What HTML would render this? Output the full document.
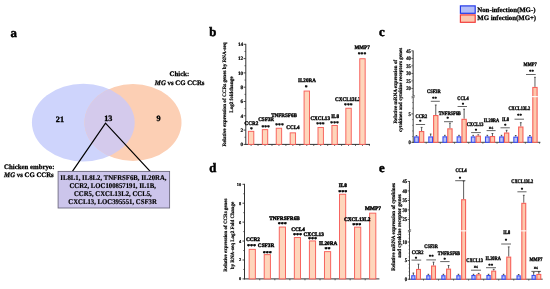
<!DOCTYPE html>
<html><head><meta charset="utf-8"><style>
html,body{margin:0;padding:0;background:#fff;}
svg{display:block;font-family:"Liberation Serif",serif;will-change:transform;text-rendering:geometricPrecision;}
</style></head><body>
<svg width="550" height="289" viewBox="0 0 550 289">
<defs><filter id="bl" x="0" y="0" width="1" height="1" color-interpolation-filters="sRGB"><feGaussianBlur stdDeviation="0.28"/></filter></defs>
<rect width="550" height="289" fill="#fff"/>
<g filter="url(#bl)">
<text x="10.40" y="36.80" font-size="12.8" font-weight="bold" font-style="normal" text-anchor="start" fill="#000" stroke="#000" stroke-width="0.512">a</text>
<ellipse cx="83.3" cy="122.6" rx="51.4" ry="38.8" fill="#ced4fc"/>
<ellipse cx="133.0" cy="122.5" rx="48.5" ry="38.4" fill="#fccfb4"/>
<clipPath id="cl"><ellipse cx="83.3" cy="122.6" rx="51.4" ry="38.8"/></clipPath>
<ellipse cx="133.0" cy="122.5" rx="48.5" ry="38.4" fill="#d4caec" clip-path="url(#cl)"/>
<text x="59.90" y="121.60" font-size="8.2" font-weight="bold" font-style="normal" text-anchor="middle" fill="#000" stroke="#000" stroke-width="0.328">21</text>
<text x="108.30" y="121.40" font-size="8.2" font-weight="bold" font-style="normal" text-anchor="middle" fill="#000" stroke="#000" stroke-width="0.328">13</text>
<text x="158.60" y="121.40" font-size="8.2" font-weight="bold" font-style="normal" text-anchor="middle" fill="#000" stroke="#000" stroke-width="0.328">9</text>
<text x="179.40" y="76.30" font-size="6.8" font-weight="bold" font-style="normal" text-anchor="middle" fill="#000" stroke="#000" stroke-width="0.272">Chick:</text>
<text x="179.7" y="84.6" font-size="6.8" font-weight="bold" text-anchor="middle" stroke="#000" stroke-width="0.272"><tspan font-style="italic">MG</tspan> vs CG CCRs</text>
<text x="4.10" y="168.70" font-size="6.8" font-weight="bold" font-style="normal" text-anchor="start" fill="#000" stroke="#000" stroke-width="0.272">Chicken embryo:</text>
<text x="4.1" y="176.5" font-size="6.8" font-weight="bold" stroke="#000" stroke-width="0.272"><tspan font-style="italic">MG</tspan> vs CG CCRs</text>
<polyline points="72.4,171.4 105.5,123.2 150.2,171.4" fill="none" stroke="#000" stroke-width="1.25"/>
<rect x="58.10" y="171.40" width="111.50" height="36.60" fill="#ccc5eb" stroke="#6e6a80" stroke-width="0.9"/>
<text transform="translate(113.40,179.70) scale(1.0,1.08)" font-size="6.75" font-weight="bold" font-style="normal" text-anchor="middle" fill="#000" stroke="#000" stroke-width="0.169">IL8L1, IL8L2, TNFRSF6B, IL20RA,</text>
<text transform="translate(112.60,187.80) scale(1.0,1.08)" font-size="6.75" font-weight="bold" font-style="normal" text-anchor="middle" fill="#000" stroke="#000" stroke-width="0.169">CCR2, LOC100857191, IL1B,</text>
<text transform="translate(112.90,195.90) scale(1.0,1.08)" font-size="6.75" font-weight="bold" font-style="normal" text-anchor="middle" fill="#000" stroke="#000" stroke-width="0.169">CCR5, CXCL13L2, CCL5,</text>
<text transform="translate(112.60,204.00) scale(1.0,1.08)" font-size="6.75" font-weight="bold" font-style="normal" text-anchor="middle" fill="#000" stroke="#000" stroke-width="0.169">CXCL13, LOC395551, CSF3R</text>
<text x="209.30" y="36.20" font-size="12.8" font-weight="bold" font-style="normal" text-anchor="start" fill="#000" stroke="#000" stroke-width="0.512">b</text>
<line x1="245.80" y1="144.85" x2="245.80" y2="43.85" stroke="#333333" stroke-width="1.0"/>
<line x1="245.30" y1="144.40" x2="370.00" y2="144.40" stroke="#333333" stroke-width="1.0"/>
<line x1="243.60" y1="144.40" x2="245.80" y2="144.40" stroke="#333333" stroke-width="0.9"/>
<text x="243.20" y="146.20" font-size="5.2" font-weight="bold" font-style="normal" text-anchor="end" fill="#000" stroke="#000" stroke-width="0.208">0</text>
<line x1="244.50" y1="137.25" x2="245.80" y2="137.25" stroke="#333333" stroke-width="0.8"/>
<line x1="243.60" y1="130.10" x2="245.80" y2="130.10" stroke="#333333" stroke-width="0.9"/>
<text x="243.20" y="131.90" font-size="5.2" font-weight="bold" font-style="normal" text-anchor="end" fill="#000" stroke="#000" stroke-width="0.208">2</text>
<line x1="244.50" y1="122.95" x2="245.80" y2="122.95" stroke="#333333" stroke-width="0.8"/>
<line x1="243.60" y1="115.80" x2="245.80" y2="115.80" stroke="#333333" stroke-width="0.9"/>
<text x="243.20" y="117.60" font-size="5.2" font-weight="bold" font-style="normal" text-anchor="end" fill="#000" stroke="#000" stroke-width="0.208">4</text>
<line x1="244.50" y1="108.65" x2="245.80" y2="108.65" stroke="#333333" stroke-width="0.8"/>
<line x1="243.60" y1="101.50" x2="245.80" y2="101.50" stroke="#333333" stroke-width="0.9"/>
<text x="243.20" y="103.30" font-size="5.2" font-weight="bold" font-style="normal" text-anchor="end" fill="#000" stroke="#000" stroke-width="0.208">6</text>
<line x1="244.50" y1="94.35" x2="245.80" y2="94.35" stroke="#333333" stroke-width="0.8"/>
<line x1="243.60" y1="87.20" x2="245.80" y2="87.20" stroke="#333333" stroke-width="0.9"/>
<text x="243.20" y="89.00" font-size="5.2" font-weight="bold" font-style="normal" text-anchor="end" fill="#000" stroke="#000" stroke-width="0.208">8</text>
<line x1="244.50" y1="80.05" x2="245.80" y2="80.05" stroke="#333333" stroke-width="0.8"/>
<line x1="243.60" y1="72.90" x2="245.80" y2="72.90" stroke="#333333" stroke-width="0.9"/>
<text x="243.20" y="74.70" font-size="5.2" font-weight="bold" font-style="normal" text-anchor="end" fill="#000" stroke="#000" stroke-width="0.208">10</text>
<line x1="244.50" y1="65.75" x2="245.80" y2="65.75" stroke="#333333" stroke-width="0.8"/>
<line x1="243.60" y1="58.60" x2="245.80" y2="58.60" stroke="#333333" stroke-width="0.9"/>
<text x="243.20" y="60.40" font-size="5.2" font-weight="bold" font-style="normal" text-anchor="end" fill="#000" stroke="#000" stroke-width="0.208">12</text>
<line x1="244.50" y1="51.45" x2="245.80" y2="51.45" stroke="#333333" stroke-width="0.8"/>
<line x1="243.60" y1="44.30" x2="245.80" y2="44.30" stroke="#333333" stroke-width="0.9"/>
<text x="243.20" y="46.10" font-size="5.2" font-weight="bold" font-style="normal" text-anchor="end" fill="#000" stroke="#000" stroke-width="0.208">14</text>
<line x1="251.10" y1="144.40" x2="251.10" y2="145.90" stroke="#333333" stroke-width="0.8"/>
<line x1="258.06" y1="144.40" x2="258.06" y2="145.90" stroke="#333333" stroke-width="0.8"/>
<line x1="265.02" y1="144.40" x2="265.02" y2="145.90" stroke="#333333" stroke-width="0.8"/>
<line x1="271.98" y1="144.40" x2="271.98" y2="145.90" stroke="#333333" stroke-width="0.8"/>
<line x1="278.94" y1="144.40" x2="278.94" y2="145.90" stroke="#333333" stroke-width="0.8"/>
<line x1="285.90" y1="144.40" x2="285.90" y2="145.90" stroke="#333333" stroke-width="0.8"/>
<line x1="292.86" y1="144.40" x2="292.86" y2="145.90" stroke="#333333" stroke-width="0.8"/>
<line x1="299.82" y1="144.40" x2="299.82" y2="145.90" stroke="#333333" stroke-width="0.8"/>
<line x1="306.78" y1="144.40" x2="306.78" y2="145.90" stroke="#333333" stroke-width="0.8"/>
<line x1="313.74" y1="144.40" x2="313.74" y2="145.90" stroke="#333333" stroke-width="0.8"/>
<line x1="320.70" y1="144.40" x2="320.70" y2="145.90" stroke="#333333" stroke-width="0.8"/>
<line x1="327.66" y1="144.40" x2="327.66" y2="145.90" stroke="#333333" stroke-width="0.8"/>
<line x1="334.62" y1="144.40" x2="334.62" y2="145.90" stroke="#333333" stroke-width="0.8"/>
<line x1="341.58" y1="144.40" x2="341.58" y2="145.90" stroke="#333333" stroke-width="0.8"/>
<line x1="348.54" y1="144.40" x2="348.54" y2="145.90" stroke="#333333" stroke-width="0.8"/>
<line x1="355.50" y1="144.40" x2="355.50" y2="145.90" stroke="#333333" stroke-width="0.8"/>
<line x1="362.46" y1="144.40" x2="362.46" y2="145.90" stroke="#333333" stroke-width="0.8"/>
<line x1="369.42" y1="144.40" x2="369.42" y2="145.90" stroke="#333333" stroke-width="0.8"/>
<text transform="translate(251.40,124.90) scale(1.0,1.08)" font-size="5.1" font-weight="bold" font-style="normal" text-anchor="middle" fill="#000" stroke="#000" stroke-width="0.357">CCR2</text>
<text transform="translate(266.10,121.30) scale(1.0,1.08)" font-size="5.1" font-weight="bold" font-style="normal" text-anchor="middle" fill="#000" stroke="#000" stroke-width="0.357">CSF3R</text>
<text transform="translate(284.05,117.40) scale(1.0,1.08)" font-size="5.1" font-weight="bold" font-style="normal" text-anchor="middle" fill="#000" stroke="#000" stroke-width="0.357">TNFRSF6B</text>
<text transform="translate(292.95,128.90) scale(1.0,1.08)" font-size="5.1" font-weight="bold" font-style="normal" text-anchor="middle" fill="#000" stroke="#000" stroke-width="0.357">CCL4</text>
<text transform="translate(306.90,82.00) scale(1.0,1.08)" font-size="5.1" font-weight="bold" font-style="normal" text-anchor="middle" fill="#000" stroke="#000" stroke-width="0.357">IL20RA</text>
<text transform="translate(320.20,119.80) scale(1.0,1.08)" font-size="5.1" font-weight="bold" font-style="normal" text-anchor="middle" fill="#000" stroke="#000" stroke-width="0.357">CXCL13</text>
<text transform="translate(335.10,118.40) scale(1.0,1.08)" font-size="5.1" font-weight="bold" font-style="normal" text-anchor="middle" fill="#000" stroke="#000" stroke-width="0.357">IL8</text>
<text transform="translate(347.85,100.60) scale(1.0,1.08)" font-size="5.1" font-weight="bold" font-style="normal" text-anchor="middle" fill="#000" stroke="#000" stroke-width="0.357">CXCL13L2</text>
<text transform="translate(362.15,49.30) scale(1.0,1.08)" font-size="5.1" font-weight="bold" font-style="normal" text-anchor="middle" fill="#000" stroke="#000" stroke-width="0.357">MMP7</text>
<rect x="248.40" y="131.35" width="5.40" height="13.05" fill="#fed6bb" stroke="#f75f5a" stroke-width="0.95"/>
<rect x="262.32" y="129.65" width="5.40" height="14.75" fill="#fed6bb" stroke="#f75f5a" stroke-width="0.95"/>
<rect x="276.24" y="128.25" width="5.40" height="16.15" fill="#fed6bb" stroke="#f75f5a" stroke-width="0.95"/>
<rect x="290.16" y="132.85" width="5.40" height="11.55" fill="#fed6bb" stroke="#f75f5a" stroke-width="0.95"/>
<rect x="304.08" y="91.05" width="5.40" height="53.35" fill="#fed6bb" stroke="#f75f5a" stroke-width="0.95"/>
<rect x="318.00" y="127.45" width="5.40" height="16.95" fill="#fed6bb" stroke="#f75f5a" stroke-width="0.95"/>
<rect x="331.92" y="125.45" width="5.40" height="18.95" fill="#fed6bb" stroke="#f75f5a" stroke-width="0.95"/>
<rect x="345.84" y="108.25" width="5.40" height="36.15" fill="#fed6bb" stroke="#f75f5a" stroke-width="0.95"/>
<rect x="359.76" y="58.75" width="5.40" height="85.65" fill="#fed6bb" stroke="#f75f5a" stroke-width="0.95"/>
<text x="251.30" y="131.15" font-size="5.6" font-weight="bold" font-style="normal" text-anchor="middle" fill="#000" stroke="#000" stroke-width="0.224">*</text>
<text x="265.70" y="128.85" font-size="5.6" font-weight="bold" font-style="normal" text-anchor="middle" fill="#000" stroke="#000" stroke-width="0.224">***</text>
<text x="279.50" y="126.85" font-size="5.6" font-weight="bold" font-style="normal" text-anchor="middle" fill="#000" stroke="#000" stroke-width="0.224">***</text>
<text x="306.20" y="88.95" font-size="5.6" font-weight="bold" font-style="normal" text-anchor="middle" fill="#000" stroke="#000" stroke-width="0.224">*</text>
<text x="320.40" y="126.35" font-size="5.6" font-weight="bold" font-style="normal" text-anchor="middle" fill="#000" stroke="#000" stroke-width="0.224">***</text>
<text x="334.55" y="125.45" font-size="5.6" font-weight="bold" font-style="normal" text-anchor="middle" fill="#000" stroke="#000" stroke-width="0.224">***</text>
<text x="348.30" y="107.05" font-size="5.6" font-weight="bold" font-style="normal" text-anchor="middle" fill="#000" stroke="#000" stroke-width="0.224">***</text>
<text x="362.00" y="56.25" font-size="5.6" font-weight="bold" font-style="normal" text-anchor="middle" fill="#000" stroke="#000" stroke-width="0.224">***</text>
<text transform="translate(226.30,94.40) rotate(-90)" font-size="5.18" font-weight="bold" text-anchor="middle" stroke="#000" stroke-width="0.207">Relative expression of CCRs genes by RNA-seq</text>
<text transform="translate(232.90,94.60) rotate(-90)" font-size="5.15" font-weight="bold" text-anchor="middle" stroke="#000" stroke-width="0.206">Log2 foldchange</text>
<rect x="460.40" y="5.90" width="14.80" height="7.40" fill="#b3bcf7" stroke="#2238e8" stroke-width="1.2"/>
<rect x="460.40" y="14.90" width="14.80" height="7.40" fill="#fcc8b0" stroke="#f23c3a" stroke-width="1.2"/>
<text x="477.30" y="12.40" font-size="6.8" font-weight="bold" font-style="normal" text-anchor="start" fill="#000" stroke="#000" stroke-width="0.272">Non-infection(MG-)</text>
<text x="477.30" y="20.40" font-size="6.8" font-weight="bold" font-style="normal" text-anchor="start" fill="#000" stroke="#000" stroke-width="0.272">MG infection(MG+)</text>
<text x="379.00" y="36.10" font-size="12.8" font-weight="bold" font-style="normal" text-anchor="start" fill="#000" stroke="#000" stroke-width="0.512">c</text>
<line x1="413.20" y1="142.75" x2="413.20" y2="50.50" stroke="#333333" stroke-width="0.9"/>
<line x1="412.75" y1="142.30" x2="540.40" y2="142.30" stroke="#333333" stroke-width="0.9"/>
<line x1="411.40" y1="142.30" x2="413.20" y2="142.30" stroke="#333333" stroke-width="0.9"/>
<text transform="translate(410.80,143.90) scale(1.0,1.2)" font-size="4.6" font-weight="bold" font-style="normal" text-anchor="end" fill="#000" stroke="#000" stroke-width="0.184">0</text>
<line x1="411.40" y1="113.90" x2="413.20" y2="113.90" stroke="#333333" stroke-width="0.9"/>
<text transform="translate(410.80,115.50) scale(1.0,1.2)" font-size="4.6" font-weight="bold" font-style="normal" text-anchor="end" fill="#000" stroke="#000" stroke-width="0.184">5</text>
<line x1="411.40" y1="88.40" x2="413.20" y2="88.40" stroke="#333333" stroke-width="0.9"/>
<text transform="translate(410.80,90.00) scale(1.0,1.2)" font-size="4.6" font-weight="bold" font-style="normal" text-anchor="end" fill="#000" stroke="#000" stroke-width="0.184">20</text>
<line x1="411.40" y1="80.90" x2="413.20" y2="80.90" stroke="#333333" stroke-width="0.9"/>
<text transform="translate(410.80,82.50) scale(1.0,1.2)" font-size="4.6" font-weight="bold" font-style="normal" text-anchor="end" fill="#000" stroke="#000" stroke-width="0.184">25</text>
<line x1="411.40" y1="73.40" x2="413.20" y2="73.40" stroke="#333333" stroke-width="0.9"/>
<text transform="translate(410.80,75.00) scale(1.0,1.2)" font-size="4.6" font-weight="bold" font-style="normal" text-anchor="end" fill="#000" stroke="#000" stroke-width="0.184">30</text>
<line x1="411.40" y1="65.90" x2="413.20" y2="65.90" stroke="#333333" stroke-width="0.9"/>
<text transform="translate(410.80,67.50) scale(1.0,1.2)" font-size="4.6" font-weight="bold" font-style="normal" text-anchor="end" fill="#000" stroke="#000" stroke-width="0.184">35</text>
<line x1="411.40" y1="58.40" x2="413.20" y2="58.40" stroke="#333333" stroke-width="0.9"/>
<text transform="translate(410.80,60.00) scale(1.0,1.2)" font-size="4.6" font-weight="bold" font-style="normal" text-anchor="end" fill="#000" stroke="#000" stroke-width="0.184">40</text>
<line x1="411.40" y1="50.90" x2="413.20" y2="50.90" stroke="#333333" stroke-width="0.9"/>
<text transform="translate(410.80,52.50) scale(1.0,1.2)" font-size="4.6" font-weight="bold" font-style="normal" text-anchor="end" fill="#000" stroke="#000" stroke-width="0.184">45</text>
<line x1="412.20" y1="136.62" x2="413.20" y2="136.62" stroke="#333333" stroke-width="0.6"/>
<line x1="412.20" y1="130.94" x2="413.20" y2="130.94" stroke="#333333" stroke-width="0.6"/>
<line x1="412.20" y1="125.26" x2="413.20" y2="125.26" stroke="#333333" stroke-width="0.6"/>
<line x1="412.20" y1="119.58" x2="413.20" y2="119.58" stroke="#333333" stroke-width="0.6"/>
<line x1="412.20" y1="108.22" x2="413.20" y2="108.22" stroke="#333333" stroke-width="0.6"/>
<line x1="412.20" y1="102.54" x2="413.20" y2="102.54" stroke="#333333" stroke-width="0.6"/>
<line x1="412.30" y1="94.40" x2="413.20" y2="94.40" stroke="#333333" stroke-width="0.45"/>
<line x1="412.30" y1="92.90" x2="413.20" y2="92.90" stroke="#333333" stroke-width="0.45"/>
<line x1="412.30" y1="91.40" x2="413.20" y2="91.40" stroke="#333333" stroke-width="0.45"/>
<line x1="412.30" y1="89.90" x2="413.20" y2="89.90" stroke="#333333" stroke-width="0.45"/>
<line x1="412.30" y1="86.90" x2="413.20" y2="86.90" stroke="#333333" stroke-width="0.45"/>
<line x1="412.30" y1="85.40" x2="413.20" y2="85.40" stroke="#333333" stroke-width="0.45"/>
<line x1="412.30" y1="83.90" x2="413.20" y2="83.90" stroke="#333333" stroke-width="0.45"/>
<line x1="412.30" y1="82.40" x2="413.20" y2="82.40" stroke="#333333" stroke-width="0.45"/>
<line x1="412.30" y1="79.40" x2="413.20" y2="79.40" stroke="#333333" stroke-width="0.45"/>
<line x1="412.30" y1="77.90" x2="413.20" y2="77.90" stroke="#333333" stroke-width="0.45"/>
<line x1="412.30" y1="76.40" x2="413.20" y2="76.40" stroke="#333333" stroke-width="0.45"/>
<line x1="412.30" y1="74.90" x2="413.20" y2="74.90" stroke="#333333" stroke-width="0.45"/>
<line x1="412.30" y1="71.90" x2="413.20" y2="71.90" stroke="#333333" stroke-width="0.45"/>
<line x1="412.30" y1="70.40" x2="413.20" y2="70.40" stroke="#333333" stroke-width="0.45"/>
<line x1="412.30" y1="68.90" x2="413.20" y2="68.90" stroke="#333333" stroke-width="0.45"/>
<line x1="412.30" y1="67.40" x2="413.20" y2="67.40" stroke="#333333" stroke-width="0.45"/>
<line x1="412.30" y1="64.40" x2="413.20" y2="64.40" stroke="#333333" stroke-width="0.45"/>
<line x1="412.30" y1="62.90" x2="413.20" y2="62.90" stroke="#333333" stroke-width="0.45"/>
<line x1="412.30" y1="61.40" x2="413.20" y2="61.40" stroke="#333333" stroke-width="0.45"/>
<line x1="412.30" y1="59.90" x2="413.20" y2="59.90" stroke="#333333" stroke-width="0.45"/>
<line x1="412.30" y1="56.90" x2="413.20" y2="56.90" stroke="#333333" stroke-width="0.45"/>
<line x1="412.30" y1="55.40" x2="413.20" y2="55.40" stroke="#333333" stroke-width="0.45"/>
<line x1="412.30" y1="53.90" x2="413.20" y2="53.90" stroke="#333333" stroke-width="0.45"/>
<line x1="412.30" y1="52.40" x2="413.20" y2="52.40" stroke="#333333" stroke-width="0.45"/>
<rect x="411.80" y="96.20" width="2.80" height="1.40" fill="#fff" stroke="none" stroke-width="0"/>
<line x1="411.60" y1="97.90" x2="414.80" y2="96.90" stroke="#333333" stroke-width="0.7"/>
<line x1="411.60" y1="96.60" x2="414.80" y2="95.60" stroke="#333333" stroke-width="0.7"/>
<line x1="426.20" y1="142.30" x2="426.20" y2="143.70" stroke="#333333" stroke-width="0.7"/>
<line x1="440.37" y1="142.30" x2="440.37" y2="143.70" stroke="#333333" stroke-width="0.7"/>
<line x1="454.54" y1="142.30" x2="454.54" y2="143.70" stroke="#333333" stroke-width="0.7"/>
<line x1="468.71" y1="142.30" x2="468.71" y2="143.70" stroke="#333333" stroke-width="0.7"/>
<line x1="482.88" y1="142.30" x2="482.88" y2="143.70" stroke="#333333" stroke-width="0.7"/>
<line x1="497.05" y1="142.30" x2="497.05" y2="143.70" stroke="#333333" stroke-width="0.7"/>
<line x1="511.22" y1="142.30" x2="511.22" y2="143.70" stroke="#333333" stroke-width="0.7"/>
<line x1="525.39" y1="142.30" x2="525.39" y2="143.70" stroke="#333333" stroke-width="0.7"/>
<line x1="539.56" y1="142.30" x2="539.56" y2="143.70" stroke="#333333" stroke-width="0.7"/>
<line x1="416.50" y1="135.60" x2="416.50" y2="136.40" stroke="#333" stroke-width="0.8"/>
<line x1="415.70" y1="135.60" x2="417.30" y2="135.60" stroke="#333" stroke-width="0.8"/>
<rect x="414.65" y="136.95" width="3.70" height="5.35" fill="#bcc4f8" stroke="#3a4ef0" stroke-width="1.1"/>
<line x1="421.60" y1="127.40" x2="421.60" y2="131.00" stroke="#333" stroke-width="0.8"/>
<line x1="420.70" y1="127.40" x2="422.50" y2="127.40" stroke="#333" stroke-width="0.8"/>
<rect x="419.45" y="131.55" width="4.30" height="10.75" fill="#fdc9ad" stroke="#f7615b" stroke-width="1.1"/>
<line x1="415.80" y1="124.50" x2="425.10" y2="124.50" stroke="#222" stroke-width="0.7"/>
<text x="420.20" y="122.83" font-size="4.9" font-weight="bold" font-style="normal" text-anchor="middle" fill="#000" stroke="#000" stroke-width="0.196">*</text>
<line x1="430.67" y1="134.00" x2="430.67" y2="136.40" stroke="#333" stroke-width="0.8"/>
<line x1="429.87" y1="134.00" x2="431.47" y2="134.00" stroke="#333" stroke-width="0.8"/>
<rect x="428.82" y="136.95" width="3.70" height="5.35" fill="#bcc4f8" stroke="#3a4ef0" stroke-width="1.1"/>
<line x1="435.77" y1="105.00" x2="435.77" y2="115.00" stroke="#333" stroke-width="0.8"/>
<line x1="434.87" y1="105.00" x2="436.67" y2="105.00" stroke="#333" stroke-width="0.8"/>
<rect x="433.62" y="115.55" width="4.30" height="26.75" fill="#fdc9ad" stroke="#f7615b" stroke-width="1.1"/>
<line x1="430.80" y1="101.30" x2="439.80" y2="101.30" stroke="#222" stroke-width="0.7"/>
<text x="434.50" y="99.53" font-size="4.9" font-weight="bold" font-style="normal" text-anchor="middle" fill="#000" stroke="#000" stroke-width="0.196">**</text>
<line x1="444.84" y1="135.30" x2="444.84" y2="136.30" stroke="#333" stroke-width="0.8"/>
<line x1="444.04" y1="135.30" x2="445.64" y2="135.30" stroke="#333" stroke-width="0.8"/>
<rect x="442.99" y="136.85" width="3.70" height="5.45" fill="#bcc4f8" stroke="#3a4ef0" stroke-width="1.1"/>
<line x1="449.94" y1="123.20" x2="449.94" y2="128.30" stroke="#333" stroke-width="0.8"/>
<line x1="449.04" y1="123.20" x2="450.84" y2="123.20" stroke="#333" stroke-width="0.8"/>
<rect x="447.79" y="128.85" width="4.30" height="13.45" fill="#fdc9ad" stroke="#f7615b" stroke-width="1.1"/>
<line x1="444.00" y1="121.70" x2="453.00" y2="121.70" stroke="#222" stroke-width="0.7"/>
<text x="447.80" y="119.93" font-size="4.9" font-weight="bold" font-style="normal" text-anchor="middle" fill="#000" stroke="#000" stroke-width="0.196">*</text>
<line x1="459.01" y1="135.30" x2="459.01" y2="136.30" stroke="#333" stroke-width="0.8"/>
<line x1="458.21" y1="135.30" x2="459.81" y2="135.30" stroke="#333" stroke-width="0.8"/>
<rect x="457.16" y="136.85" width="3.70" height="5.45" fill="#bcc4f8" stroke="#3a4ef0" stroke-width="1.1"/>
<line x1="464.11" y1="109.20" x2="464.11" y2="118.80" stroke="#333" stroke-width="0.8"/>
<line x1="463.21" y1="109.20" x2="465.01" y2="109.20" stroke="#333" stroke-width="0.8"/>
<rect x="461.96" y="119.35" width="4.30" height="22.95" fill="#fdc9ad" stroke="#f7615b" stroke-width="1.1"/>
<line x1="457.60" y1="106.50" x2="467.00" y2="106.50" stroke="#222" stroke-width="0.7"/>
<text x="463.10" y="105.63" font-size="4.9" font-weight="bold" font-style="normal" text-anchor="middle" fill="#000" stroke="#000" stroke-width="0.196">*</text>
<line x1="473.18" y1="135.30" x2="473.18" y2="136.40" stroke="#333" stroke-width="0.8"/>
<line x1="472.38" y1="135.30" x2="473.98" y2="135.30" stroke="#333" stroke-width="0.8"/>
<rect x="471.33" y="136.95" width="3.70" height="5.35" fill="#bcc4f8" stroke="#3a4ef0" stroke-width="1.1"/>
<line x1="478.28" y1="134.80" x2="478.28" y2="135.60" stroke="#333" stroke-width="0.8"/>
<line x1="477.38" y1="134.80" x2="479.18" y2="134.80" stroke="#333" stroke-width="0.8"/>
<rect x="476.13" y="136.15" width="4.30" height="6.15" fill="#fdc9ad" stroke="#f7615b" stroke-width="1.1"/>
<line x1="471.10" y1="132.60" x2="480.80" y2="132.60" stroke="#222" stroke-width="0.7"/>
<text x="475.90" y="132.03" font-size="4.9" font-weight="bold" font-style="normal" text-anchor="middle" fill="#000" stroke="#000" stroke-width="0.196">*</text>
<line x1="487.35" y1="135.30" x2="487.35" y2="136.40" stroke="#333" stroke-width="0.8"/>
<line x1="486.55" y1="135.30" x2="488.15" y2="135.30" stroke="#333" stroke-width="0.8"/>
<rect x="485.50" y="136.95" width="3.70" height="5.35" fill="#bcc4f8" stroke="#3a4ef0" stroke-width="1.1"/>
<line x1="492.45" y1="133.50" x2="492.45" y2="136.00" stroke="#333" stroke-width="0.8"/>
<line x1="491.55" y1="133.50" x2="493.35" y2="133.50" stroke="#333" stroke-width="0.8"/>
<rect x="490.30" y="136.55" width="4.30" height="5.75" fill="#fdc9ad" stroke="#f7615b" stroke-width="1.1"/>
<line x1="486.60" y1="130.60" x2="495.60" y2="130.60" stroke="#222" stroke-width="0.7"/>
<text x="491.00" y="128.56" font-size="4.6" font-weight="bold" font-style="normal" text-anchor="middle" fill="#000" stroke="#000" stroke-width="0.184">ns</text>
<line x1="501.52" y1="135.30" x2="501.52" y2="136.40" stroke="#333" stroke-width="0.8"/>
<line x1="500.72" y1="135.30" x2="502.32" y2="135.30" stroke="#333" stroke-width="0.8"/>
<rect x="499.67" y="136.95" width="3.70" height="5.35" fill="#bcc4f8" stroke="#3a4ef0" stroke-width="1.1"/>
<line x1="506.62" y1="130.30" x2="506.62" y2="132.50" stroke="#333" stroke-width="0.8"/>
<line x1="505.72" y1="130.30" x2="507.52" y2="130.30" stroke="#333" stroke-width="0.8"/>
<rect x="504.47" y="133.05" width="4.30" height="9.25" fill="#fdc9ad" stroke="#f7615b" stroke-width="1.1"/>
<line x1="500.50" y1="127.80" x2="509.80" y2="127.80" stroke="#222" stroke-width="0.7"/>
<text x="505.30" y="126.83" font-size="4.9" font-weight="bold" font-style="normal" text-anchor="middle" fill="#000" stroke="#000" stroke-width="0.196">*</text>
<line x1="515.69" y1="135.50" x2="515.69" y2="136.60" stroke="#333" stroke-width="0.8"/>
<line x1="514.89" y1="135.50" x2="516.49" y2="135.50" stroke="#333" stroke-width="0.8"/>
<rect x="513.84" y="137.15" width="3.70" height="5.15" fill="#bcc4f8" stroke="#3a4ef0" stroke-width="1.1"/>
<line x1="520.79" y1="122.70" x2="520.79" y2="126.50" stroke="#333" stroke-width="0.8"/>
<line x1="519.89" y1="122.70" x2="521.69" y2="122.70" stroke="#333" stroke-width="0.8"/>
<rect x="518.64" y="127.05" width="4.30" height="15.25" fill="#fdc9ad" stroke="#f7615b" stroke-width="1.1"/>
<line x1="514.50" y1="119.20" x2="524.00" y2="119.20" stroke="#222" stroke-width="0.7"/>
<text x="519.50" y="117.23" font-size="4.9" font-weight="bold" font-style="normal" text-anchor="middle" fill="#000" stroke="#000" stroke-width="0.196">**</text>
<line x1="529.86" y1="135.50" x2="529.86" y2="136.60" stroke="#333" stroke-width="0.8"/>
<line x1="529.06" y1="135.50" x2="530.66" y2="135.50" stroke="#333" stroke-width="0.8"/>
<rect x="528.01" y="137.15" width="3.70" height="5.15" fill="#bcc4f8" stroke="#3a4ef0" stroke-width="1.1"/>
<line x1="534.96" y1="77.30" x2="534.96" y2="86.90" stroke="#333" stroke-width="0.8"/>
<line x1="534.06" y1="77.30" x2="535.86" y2="77.30" stroke="#333" stroke-width="0.8"/>
<rect x="532.81" y="87.45" width="4.30" height="54.85" fill="#fdc9ad" stroke="#f7615b" stroke-width="1.1"/>
<line x1="526.00" y1="74.50" x2="535.70" y2="74.50" stroke="#222" stroke-width="0.7"/>
<text x="531.50" y="72.83" font-size="4.9" font-weight="bold" font-style="normal" text-anchor="middle" fill="#000" stroke="#000" stroke-width="0.196">**</text>
<rect x="532.06" y="96.10" width="5.80" height="1.10" fill="#fff" stroke="none" stroke-width="0"/>
<text transform="translate(421.30,117.60) scale(0.97,1.22)" font-size="4.5" font-weight="bold" font-style="normal" text-anchor="middle" fill="#000" stroke="#000" stroke-width="0.315">CCR2</text>
<text transform="translate(433.90,93.20) scale(0.97,1.22)" font-size="4.5" font-weight="bold" font-style="normal" text-anchor="middle" fill="#000" stroke="#000" stroke-width="0.315">CSF3R</text>
<text transform="translate(449.70,115.00) scale(0.97,1.22)" font-size="4.5" font-weight="bold" font-style="normal" text-anchor="middle" fill="#000" stroke="#000" stroke-width="0.315">TNFRSF6B</text>
<text transform="translate(463.00,99.50) scale(0.97,1.22)" font-size="4.5" font-weight="bold" font-style="normal" text-anchor="middle" fill="#000" stroke="#000" stroke-width="0.315">CCL4</text>
<text transform="translate(475.00,126.00) scale(0.97,1.22)" font-size="4.5" font-weight="bold" font-style="normal" text-anchor="middle" fill="#000" stroke="#000" stroke-width="0.315">CXCL13</text>
<text transform="translate(491.50,121.90) scale(0.97,1.22)" font-size="4.5" font-weight="bold" font-style="normal" text-anchor="middle" fill="#000" stroke="#000" stroke-width="0.315">IL20RA</text>
<text transform="translate(505.50,120.80) scale(0.97,1.22)" font-size="4.5" font-weight="bold" font-style="normal" text-anchor="middle" fill="#000" stroke="#000" stroke-width="0.315">IL8</text>
<text transform="translate(519.30,109.60) scale(0.97,1.22)" font-size="4.5" font-weight="bold" font-style="normal" text-anchor="middle" fill="#000" stroke="#000" stroke-width="0.315">CXCL13L2</text>
<text transform="translate(530.10,66.20) scale(0.97,1.22)" font-size="4.5" font-weight="bold" font-style="normal" text-anchor="middle" fill="#000" stroke="#000" stroke-width="0.315">MMP7</text>
<text transform="translate(397.40,91.70) rotate(-90)" font-size="5.1" font-weight="bold" text-anchor="middle" stroke="#000" stroke-width="0.204">Relative mRNA expression of</text>
<text transform="translate(402.20,89.90) rotate(-90)" font-size="5.1" font-weight="bold" text-anchor="middle" stroke="#000" stroke-width="0.204">cytokines and cytokine receptors genes</text>
<text x="209.30" y="171.80" font-size="12.8" font-weight="bold" font-style="normal" text-anchor="start" fill="#000" stroke="#000" stroke-width="0.512">d</text>
<line x1="244.50" y1="279.35" x2="244.50" y2="183.85" stroke="#333333" stroke-width="1.0"/>
<line x1="244.00" y1="278.90" x2="379.40" y2="278.90" stroke="#333333" stroke-width="1.0"/>
<line x1="242.50" y1="278.90" x2="244.50" y2="278.90" stroke="#333333" stroke-width="0.9"/>
<text x="241.20" y="280.40" font-size="4.4" font-weight="bold" font-style="normal" text-anchor="end" fill="#000" stroke="#000" stroke-width="0.176">0</text>
<line x1="243.30" y1="269.44" x2="244.50" y2="269.44" stroke="#333333" stroke-width="0.8"/>
<line x1="242.50" y1="259.98" x2="244.50" y2="259.98" stroke="#333333" stroke-width="0.9"/>
<text x="241.20" y="261.48" font-size="4.4" font-weight="bold" font-style="normal" text-anchor="end" fill="#000" stroke="#000" stroke-width="0.176">2</text>
<line x1="243.30" y1="250.52" x2="244.50" y2="250.52" stroke="#333333" stroke-width="0.8"/>
<line x1="242.50" y1="241.06" x2="244.50" y2="241.06" stroke="#333333" stroke-width="0.9"/>
<text x="241.20" y="242.56" font-size="4.4" font-weight="bold" font-style="normal" text-anchor="end" fill="#000" stroke="#000" stroke-width="0.176">4</text>
<line x1="243.30" y1="231.60" x2="244.50" y2="231.60" stroke="#333333" stroke-width="0.8"/>
<line x1="242.50" y1="222.14" x2="244.50" y2="222.14" stroke="#333333" stroke-width="0.9"/>
<text x="241.20" y="223.64" font-size="4.4" font-weight="bold" font-style="normal" text-anchor="end" fill="#000" stroke="#000" stroke-width="0.176">6</text>
<line x1="243.30" y1="212.68" x2="244.50" y2="212.68" stroke="#333333" stroke-width="0.8"/>
<line x1="242.50" y1="203.22" x2="244.50" y2="203.22" stroke="#333333" stroke-width="0.9"/>
<text x="241.20" y="204.72" font-size="4.4" font-weight="bold" font-style="normal" text-anchor="end" fill="#000" stroke="#000" stroke-width="0.176">8</text>
<line x1="243.30" y1="193.76" x2="244.50" y2="193.76" stroke="#333333" stroke-width="0.8"/>
<line x1="242.50" y1="184.30" x2="244.50" y2="184.30" stroke="#333333" stroke-width="0.9"/>
<text x="241.20" y="185.80" font-size="4.4" font-weight="bold" font-style="normal" text-anchor="end" fill="#000" stroke="#000" stroke-width="0.176">10</text>
<line x1="259.78" y1="278.90" x2="259.78" y2="280.30" stroke="#333333" stroke-width="0.8"/>
<line x1="274.84" y1="278.90" x2="274.84" y2="280.30" stroke="#333333" stroke-width="0.8"/>
<line x1="289.90" y1="278.90" x2="289.90" y2="280.30" stroke="#333333" stroke-width="0.8"/>
<line x1="304.96" y1="278.90" x2="304.96" y2="280.30" stroke="#333333" stroke-width="0.8"/>
<line x1="320.02" y1="278.90" x2="320.02" y2="280.30" stroke="#333333" stroke-width="0.8"/>
<line x1="335.08" y1="278.90" x2="335.08" y2="280.30" stroke="#333333" stroke-width="0.8"/>
<line x1="350.14" y1="278.90" x2="350.14" y2="280.30" stroke="#333333" stroke-width="0.8"/>
<line x1="365.20" y1="278.90" x2="365.20" y2="280.30" stroke="#333333" stroke-width="0.8"/>
<rect x="249.15" y="249.35" width="6.20" height="29.55" fill="#fed6bb" stroke="#f75f5a" stroke-width="0.95"/>
<rect x="264.21" y="254.65" width="6.20" height="24.25" fill="#fed6bb" stroke="#f75f5a" stroke-width="0.95"/>
<rect x="279.27" y="227.05" width="6.20" height="51.85" fill="#fed6bb" stroke="#f75f5a" stroke-width="0.95"/>
<rect x="294.33" y="237.55" width="6.20" height="41.35" fill="#fed6bb" stroke="#f75f5a" stroke-width="0.95"/>
<rect x="309.39" y="240.95" width="6.20" height="37.95" fill="#fed6bb" stroke="#f75f5a" stroke-width="0.95"/>
<rect x="324.45" y="251.65" width="6.20" height="27.25" fill="#fed6bb" stroke="#f75f5a" stroke-width="0.95"/>
<rect x="339.51" y="194.25" width="6.20" height="84.65" fill="#fed6bb" stroke="#f75f5a" stroke-width="0.95"/>
<rect x="354.57" y="227.15" width="6.20" height="51.75" fill="#fed6bb" stroke="#f75f5a" stroke-width="0.95"/>
<rect x="369.63" y="213.15" width="6.20" height="65.75" fill="#fed6bb" stroke="#f75f5a" stroke-width="0.95"/>
<text x="252.95" y="241.40" font-size="5.3" font-weight="bold" font-style="normal" text-anchor="middle" fill="#000" stroke="#000" stroke-width="0.424">CCR2</text>
<text x="266.10" y="247.10" font-size="5.3" font-weight="bold" font-style="normal" text-anchor="middle" fill="#000" stroke="#000" stroke-width="0.424">CSF3R</text>
<text x="284.55" y="219.90" font-size="5.3" font-weight="bold" font-style="normal" text-anchor="middle" fill="#000" stroke="#000" stroke-width="0.424">TNFRSFR6B</text>
<text x="298.05" y="230.70" font-size="5.3" font-weight="bold" font-style="normal" text-anchor="middle" fill="#000" stroke="#000" stroke-width="0.424">CCL4</text>
<text x="313.65" y="236.20" font-size="5.3" font-weight="bold" font-style="normal" text-anchor="middle" fill="#000" stroke="#000" stroke-width="0.424">CXCL13</text>
<text x="328.15" y="244.60" font-size="5.3" font-weight="bold" font-style="normal" text-anchor="middle" fill="#000" stroke="#000" stroke-width="0.424">IL20RA</text>
<text x="342.80" y="186.70" font-size="5.3" font-weight="bold" font-style="normal" text-anchor="middle" fill="#000" stroke="#000" stroke-width="0.424">IL8</text>
<text x="357.15" y="221.10" font-size="5.3" font-weight="bold" font-style="normal" text-anchor="middle" fill="#000" stroke="#000" stroke-width="0.424">CXCL13L2</text>
<text x="372.90" y="210.20" font-size="5.3" font-weight="bold" font-style="normal" text-anchor="middle" fill="#000" stroke="#000" stroke-width="0.424">MMP7</text>
<text x="251.60" y="248.13" font-size="6.0" font-weight="bold" font-style="normal" text-anchor="middle" fill="#000" stroke="#000" stroke-width="0.240">***</text>
<text x="267.20" y="254.63" font-size="6.0" font-weight="bold" font-style="normal" text-anchor="middle" fill="#000" stroke="#000" stroke-width="0.240">***</text>
<text x="282.25" y="226.33" font-size="6.0" font-weight="bold" font-style="normal" text-anchor="middle" fill="#000" stroke="#000" stroke-width="0.240">***</text>
<text x="297.60" y="236.53" font-size="6.0" font-weight="bold" font-style="normal" text-anchor="middle" fill="#000" stroke="#000" stroke-width="0.240">***</text>
<text x="312.40" y="241.03" font-size="6.0" font-weight="bold" font-style="normal" text-anchor="middle" fill="#000" stroke="#000" stroke-width="0.240">***</text>
<text x="327.55" y="250.93" font-size="6.0" font-weight="bold" font-style="normal" text-anchor="middle" fill="#000" stroke="#000" stroke-width="0.240">**</text>
<text x="342.75" y="193.53" font-size="6.0" font-weight="bold" font-style="normal" text-anchor="middle" fill="#000" stroke="#000" stroke-width="0.240">***</text>
<text x="356.80" y="227.23" font-size="6.0" font-weight="bold" font-style="normal" text-anchor="middle" fill="#000" stroke="#000" stroke-width="0.240">***</text>
<text transform="translate(226.90,235.10) rotate(-90)" font-size="4.98" font-weight="bold" text-anchor="middle" stroke="#000" stroke-width="0.199">Relative expression of CCRs genes</text>
<text transform="translate(233.60,235.60) rotate(-90)" font-size="5.07" font-weight="bold" text-anchor="middle" stroke="#000" stroke-width="0.203">by RNA-seq Log2 Fold Change</text>
<text x="379.10" y="171.60" font-size="12.8" font-weight="bold" font-style="normal" text-anchor="start" fill="#000" stroke="#000" stroke-width="0.512">e</text>
<line x1="409.50" y1="279.65" x2="409.50" y2="181.00" stroke="#333333" stroke-width="0.9"/>
<line x1="409.05" y1="279.20" x2="542.70" y2="279.20" stroke="#333333" stroke-width="0.9"/>
<line x1="407.70" y1="279.20" x2="409.50" y2="279.20" stroke="#333333" stroke-width="0.9"/>
<text transform="translate(407.10,280.80) scale(1.0,1.2)" font-size="4.6" font-weight="bold" font-style="normal" text-anchor="end" fill="#000" stroke="#000" stroke-width="0.184">0</text>
<line x1="407.70" y1="260.60" x2="409.50" y2="260.60" stroke="#333333" stroke-width="0.9"/>
<text transform="translate(407.10,262.20) scale(1.0,1.2)" font-size="4.6" font-weight="bold" font-style="normal" text-anchor="end" fill="#000" stroke="#000" stroke-width="0.184">5</text>
<line x1="407.70" y1="242.00" x2="409.50" y2="242.00" stroke="#333333" stroke-width="0.9"/>
<text transform="translate(407.10,243.60) scale(1.0,1.2)" font-size="4.6" font-weight="bold" font-style="normal" text-anchor="end" fill="#000" stroke="#000" stroke-width="0.184">10</text>
<line x1="407.70" y1="219.40" x2="409.50" y2="219.40" stroke="#333333" stroke-width="0.9"/>
<text transform="translate(407.10,221.00) scale(1.0,1.2)" font-size="4.6" font-weight="bold" font-style="normal" text-anchor="end" fill="#000" stroke="#000" stroke-width="0.184">25</text>
<line x1="407.70" y1="209.90" x2="409.50" y2="209.90" stroke="#333333" stroke-width="0.9"/>
<text transform="translate(407.10,211.50) scale(1.0,1.2)" font-size="4.6" font-weight="bold" font-style="normal" text-anchor="end" fill="#000" stroke="#000" stroke-width="0.184">30</text>
<line x1="407.70" y1="200.40" x2="409.50" y2="200.40" stroke="#333333" stroke-width="0.9"/>
<text transform="translate(407.10,202.00) scale(1.0,1.2)" font-size="4.6" font-weight="bold" font-style="normal" text-anchor="end" fill="#000" stroke="#000" stroke-width="0.184">35</text>
<line x1="407.70" y1="190.90" x2="409.50" y2="190.90" stroke="#333333" stroke-width="0.9"/>
<text transform="translate(407.10,192.50) scale(1.0,1.2)" font-size="4.6" font-weight="bold" font-style="normal" text-anchor="end" fill="#000" stroke="#000" stroke-width="0.184">40</text>
<line x1="407.70" y1="181.40" x2="409.50" y2="181.40" stroke="#333333" stroke-width="0.9"/>
<text transform="translate(407.10,183.00) scale(1.0,1.2)" font-size="4.6" font-weight="bold" font-style="normal" text-anchor="end" fill="#000" stroke="#000" stroke-width="0.184">45</text>
<line x1="408.50" y1="275.48" x2="409.50" y2="275.48" stroke="#333333" stroke-width="0.5"/>
<line x1="408.50" y1="271.76" x2="409.50" y2="271.76" stroke="#333333" stroke-width="0.5"/>
<line x1="408.50" y1="268.04" x2="409.50" y2="268.04" stroke="#333333" stroke-width="0.5"/>
<line x1="408.50" y1="264.32" x2="409.50" y2="264.32" stroke="#333333" stroke-width="0.5"/>
<line x1="408.50" y1="256.88" x2="409.50" y2="256.88" stroke="#333333" stroke-width="0.5"/>
<line x1="408.50" y1="253.16" x2="409.50" y2="253.16" stroke="#333333" stroke-width="0.5"/>
<line x1="408.50" y1="249.44" x2="409.50" y2="249.44" stroke="#333333" stroke-width="0.5"/>
<line x1="408.50" y1="245.72" x2="409.50" y2="245.72" stroke="#333333" stroke-width="0.5"/>
<line x1="408.50" y1="238.28" x2="409.50" y2="238.28" stroke="#333333" stroke-width="0.5"/>
<line x1="408.50" y1="234.56" x2="409.50" y2="234.56" stroke="#333333" stroke-width="0.5"/>
<line x1="408.60" y1="227.00" x2="409.50" y2="227.00" stroke="#333333" stroke-width="0.45"/>
<line x1="408.60" y1="225.10" x2="409.50" y2="225.10" stroke="#333333" stroke-width="0.45"/>
<line x1="408.60" y1="223.20" x2="409.50" y2="223.20" stroke="#333333" stroke-width="0.45"/>
<line x1="408.60" y1="221.30" x2="409.50" y2="221.30" stroke="#333333" stroke-width="0.45"/>
<line x1="408.60" y1="217.50" x2="409.50" y2="217.50" stroke="#333333" stroke-width="0.45"/>
<line x1="408.60" y1="215.60" x2="409.50" y2="215.60" stroke="#333333" stroke-width="0.45"/>
<line x1="408.60" y1="213.70" x2="409.50" y2="213.70" stroke="#333333" stroke-width="0.45"/>
<line x1="408.60" y1="211.80" x2="409.50" y2="211.80" stroke="#333333" stroke-width="0.45"/>
<line x1="408.60" y1="208.00" x2="409.50" y2="208.00" stroke="#333333" stroke-width="0.45"/>
<line x1="408.60" y1="206.10" x2="409.50" y2="206.10" stroke="#333333" stroke-width="0.45"/>
<line x1="408.60" y1="204.20" x2="409.50" y2="204.20" stroke="#333333" stroke-width="0.45"/>
<line x1="408.60" y1="202.30" x2="409.50" y2="202.30" stroke="#333333" stroke-width="0.45"/>
<line x1="408.60" y1="198.50" x2="409.50" y2="198.50" stroke="#333333" stroke-width="0.45"/>
<line x1="408.60" y1="196.60" x2="409.50" y2="196.60" stroke="#333333" stroke-width="0.45"/>
<line x1="408.60" y1="194.70" x2="409.50" y2="194.70" stroke="#333333" stroke-width="0.45"/>
<line x1="408.60" y1="192.80" x2="409.50" y2="192.80" stroke="#333333" stroke-width="0.45"/>
<line x1="408.60" y1="189.00" x2="409.50" y2="189.00" stroke="#333333" stroke-width="0.45"/>
<line x1="408.60" y1="187.10" x2="409.50" y2="187.10" stroke="#333333" stroke-width="0.45"/>
<line x1="408.60" y1="185.20" x2="409.50" y2="185.20" stroke="#333333" stroke-width="0.45"/>
<line x1="408.60" y1="183.30" x2="409.50" y2="183.30" stroke="#333333" stroke-width="0.45"/>
<rect x="408.10" y="230.30" width="2.80" height="1.40" fill="#fff" stroke="none" stroke-width="0"/>
<line x1="407.90" y1="232.00" x2="411.10" y2="231.00" stroke="#333333" stroke-width="0.7"/>
<line x1="407.90" y1="230.70" x2="411.10" y2="229.70" stroke="#333333" stroke-width="0.7"/>
<line x1="423.50" y1="279.20" x2="423.50" y2="280.60" stroke="#333333" stroke-width="0.7"/>
<line x1="438.54" y1="279.20" x2="438.54" y2="280.60" stroke="#333333" stroke-width="0.7"/>
<line x1="453.58" y1="279.20" x2="453.58" y2="280.60" stroke="#333333" stroke-width="0.7"/>
<line x1="468.62" y1="279.20" x2="468.62" y2="280.60" stroke="#333333" stroke-width="0.7"/>
<line x1="483.66" y1="279.20" x2="483.66" y2="280.60" stroke="#333333" stroke-width="0.7"/>
<line x1="498.70" y1="279.20" x2="498.70" y2="280.60" stroke="#333333" stroke-width="0.7"/>
<line x1="513.74" y1="279.20" x2="513.74" y2="280.60" stroke="#333333" stroke-width="0.7"/>
<line x1="528.78" y1="279.20" x2="528.78" y2="280.60" stroke="#333333" stroke-width="0.7"/>
<line x1="413.35" y1="273.00" x2="413.35" y2="275.20" stroke="#333" stroke-width="0.8"/>
<line x1="412.55" y1="273.00" x2="414.15" y2="273.00" stroke="#333" stroke-width="0.8"/>
<rect x="411.75" y="275.75" width="3.20" height="3.45" fill="#bcc4f8" stroke="#3a4ef0" stroke-width="1.1"/>
<line x1="418.50" y1="264.20" x2="418.50" y2="268.90" stroke="#333" stroke-width="0.8"/>
<line x1="417.60" y1="264.20" x2="419.40" y2="264.20" stroke="#333" stroke-width="0.8"/>
<rect x="416.55" y="269.45" width="3.90" height="9.75" fill="#fdc9ad" stroke="#f7615b" stroke-width="1.1"/>
<line x1="411.50" y1="260.10" x2="421.20" y2="260.10" stroke="#222" stroke-width="0.7"/>
<text x="416.00" y="259.63" font-size="4.9" font-weight="bold" font-style="normal" text-anchor="middle" fill="#000" stroke="#000" stroke-width="0.196">*</text>
<line x1="428.39" y1="274.30" x2="428.39" y2="275.20" stroke="#333" stroke-width="0.8"/>
<line x1="427.59" y1="274.30" x2="429.19" y2="274.30" stroke="#333" stroke-width="0.8"/>
<rect x="426.79" y="275.75" width="3.20" height="3.45" fill="#bcc4f8" stroke="#3a4ef0" stroke-width="1.1"/>
<line x1="433.54" y1="262.20" x2="433.54" y2="265.50" stroke="#333" stroke-width="0.8"/>
<line x1="432.64" y1="262.20" x2="434.44" y2="262.20" stroke="#333" stroke-width="0.8"/>
<rect x="431.59" y="266.05" width="3.90" height="13.15" fill="#fdc9ad" stroke="#f7615b" stroke-width="1.1"/>
<line x1="426.30" y1="259.90" x2="436.00" y2="259.90" stroke="#222" stroke-width="0.7"/>
<text x="431.20" y="258.23" font-size="4.9" font-weight="bold" font-style="normal" text-anchor="middle" fill="#000" stroke="#000" stroke-width="0.196">**</text>
<line x1="443.43" y1="274.30" x2="443.43" y2="275.20" stroke="#333" stroke-width="0.8"/>
<line x1="442.63" y1="274.30" x2="444.23" y2="274.30" stroke="#333" stroke-width="0.8"/>
<rect x="441.83" y="275.75" width="3.20" height="3.45" fill="#bcc4f8" stroke="#3a4ef0" stroke-width="1.1"/>
<line x1="448.58" y1="265.50" x2="448.58" y2="268.60" stroke="#333" stroke-width="0.8"/>
<line x1="447.68" y1="265.50" x2="449.48" y2="265.50" stroke="#333" stroke-width="0.8"/>
<rect x="446.63" y="269.15" width="3.90" height="10.05" fill="#fdc9ad" stroke="#f7615b" stroke-width="1.1"/>
<line x1="440.20" y1="261.60" x2="449.60" y2="261.60" stroke="#222" stroke-width="0.7"/>
<text x="444.80" y="260.93" font-size="4.9" font-weight="bold" font-style="normal" text-anchor="middle" fill="#000" stroke="#000" stroke-width="0.196">*</text>
<line x1="458.47" y1="274.30" x2="458.47" y2="275.20" stroke="#333" stroke-width="0.8"/>
<line x1="457.67" y1="274.30" x2="459.27" y2="274.30" stroke="#333" stroke-width="0.8"/>
<rect x="456.87" y="275.75" width="3.20" height="3.45" fill="#bcc4f8" stroke="#3a4ef0" stroke-width="1.1"/>
<line x1="463.62" y1="181.00" x2="463.62" y2="199.20" stroke="#333" stroke-width="0.8"/>
<line x1="462.72" y1="181.00" x2="464.52" y2="181.00" stroke="#333" stroke-width="0.8"/>
<rect x="461.67" y="199.75" width="3.90" height="79.45" fill="#fdc9ad" stroke="#f7615b" stroke-width="1.1"/>
<line x1="455.20" y1="180.70" x2="465.40" y2="180.70" stroke="#222" stroke-width="0.7"/>
<text x="459.90" y="180.23" font-size="4.9" font-weight="bold" font-style="normal" text-anchor="middle" fill="#000" stroke="#000" stroke-width="0.196">*</text>
<line x1="473.51" y1="274.30" x2="473.51" y2="275.00" stroke="#333" stroke-width="0.8"/>
<line x1="472.71" y1="274.30" x2="474.31" y2="274.30" stroke="#333" stroke-width="0.8"/>
<rect x="471.91" y="275.55" width="3.20" height="3.65" fill="#bcc4f8" stroke="#3a4ef0" stroke-width="1.1"/>
<line x1="478.66" y1="273.40" x2="478.66" y2="274.30" stroke="#333" stroke-width="0.8"/>
<line x1="477.76" y1="273.40" x2="479.56" y2="273.40" stroke="#333" stroke-width="0.8"/>
<rect x="476.71" y="274.85" width="3.90" height="4.35" fill="#fdc9ad" stroke="#f7615b" stroke-width="1.1"/>
<line x1="471.00" y1="270.20" x2="481.00" y2="270.20" stroke="#222" stroke-width="0.7"/>
<text x="475.90" y="268.16" font-size="4.6" font-weight="bold" font-style="normal" text-anchor="middle" fill="#000" stroke="#000" stroke-width="0.184">ns</text>
<line x1="488.55" y1="274.30" x2="488.55" y2="275.00" stroke="#333" stroke-width="0.8"/>
<line x1="487.75" y1="274.30" x2="489.35" y2="274.30" stroke="#333" stroke-width="0.8"/>
<rect x="486.95" y="275.55" width="3.20" height="3.65" fill="#bcc4f8" stroke="#3a4ef0" stroke-width="1.1"/>
<line x1="493.70" y1="269.30" x2="493.70" y2="270.60" stroke="#333" stroke-width="0.8"/>
<line x1="492.80" y1="269.30" x2="494.60" y2="269.30" stroke="#333" stroke-width="0.8"/>
<rect x="491.75" y="271.15" width="3.90" height="8.05" fill="#fdc9ad" stroke="#f7615b" stroke-width="1.1"/>
<line x1="486.00" y1="267.70" x2="496.00" y2="267.70" stroke="#222" stroke-width="0.7"/>
<text x="490.80" y="267.33" font-size="4.9" font-weight="bold" font-style="normal" text-anchor="middle" fill="#000" stroke="#000" stroke-width="0.196">**</text>
<line x1="503.59" y1="274.30" x2="503.59" y2="275.20" stroke="#333" stroke-width="0.8"/>
<line x1="502.79" y1="274.30" x2="504.39" y2="274.30" stroke="#333" stroke-width="0.8"/>
<rect x="501.99" y="275.75" width="3.20" height="3.45" fill="#bcc4f8" stroke="#3a4ef0" stroke-width="1.1"/>
<line x1="508.74" y1="246.90" x2="508.74" y2="256.60" stroke="#333" stroke-width="0.8"/>
<line x1="507.84" y1="246.90" x2="509.64" y2="246.90" stroke="#333" stroke-width="0.8"/>
<rect x="506.79" y="257.15" width="3.90" height="22.05" fill="#fdc9ad" stroke="#f7615b" stroke-width="1.1"/>
<line x1="501.20" y1="244.00" x2="511.00" y2="244.00" stroke="#222" stroke-width="0.7"/>
<text x="506.00" y="242.13" font-size="4.9" font-weight="bold" font-style="normal" text-anchor="middle" fill="#000" stroke="#000" stroke-width="0.196">*</text>
<line x1="518.63" y1="274.50" x2="518.63" y2="275.30" stroke="#333" stroke-width="0.8"/>
<line x1="517.83" y1="274.50" x2="519.43" y2="274.50" stroke="#333" stroke-width="0.8"/>
<rect x="517.03" y="275.85" width="3.20" height="3.35" fill="#bcc4f8" stroke="#3a4ef0" stroke-width="1.1"/>
<line x1="523.78" y1="195.30" x2="523.78" y2="202.80" stroke="#333" stroke-width="0.8"/>
<line x1="522.88" y1="195.30" x2="524.68" y2="195.30" stroke="#333" stroke-width="0.8"/>
<rect x="521.83" y="203.35" width="3.90" height="75.85" fill="#fdc9ad" stroke="#f7615b" stroke-width="1.1"/>
<line x1="517.40" y1="191.80" x2="526.50" y2="191.80" stroke="#222" stroke-width="0.7"/>
<text x="522.10" y="190.63" font-size="4.9" font-weight="bold" font-style="normal" text-anchor="middle" fill="#000" stroke="#000" stroke-width="0.196">*</text>
<line x1="533.67" y1="272.40" x2="533.67" y2="274.90" stroke="#333" stroke-width="0.8"/>
<line x1="532.87" y1="272.40" x2="534.47" y2="272.40" stroke="#333" stroke-width="0.8"/>
<rect x="532.07" y="275.45" width="3.20" height="3.75" fill="#bcc4f8" stroke="#3a4ef0" stroke-width="1.1"/>
<line x1="538.82" y1="271.80" x2="538.82" y2="273.90" stroke="#333" stroke-width="0.8"/>
<line x1="537.92" y1="271.80" x2="539.72" y2="271.80" stroke="#333" stroke-width="0.8"/>
<rect x="536.87" y="274.45" width="3.90" height="4.75" fill="#fdc9ad" stroke="#f7615b" stroke-width="1.1"/>
<line x1="531.40" y1="271.40" x2="541.00" y2="271.40" stroke="#222" stroke-width="0.7"/>
<text x="535.80" y="269.06" font-size="4.6" font-weight="bold" font-style="normal" text-anchor="middle" fill="#000" stroke="#000" stroke-width="0.184">ns</text>
<rect x="460.92" y="230.30" width="5.40" height="1.10" fill="#fff" stroke="none" stroke-width="0"/>
<rect x="521.08" y="230.30" width="5.40" height="1.10" fill="#fff" stroke="none" stroke-width="0"/>
<text transform="translate(417.60,253.60) scale(0.97,1.22)" font-size="4.5" font-weight="bold" font-style="normal" text-anchor="middle" fill="#000" stroke="#000" stroke-width="0.315">CCR2</text>
<text transform="translate(431.10,248.30) scale(0.97,1.22)" font-size="4.5" font-weight="bold" font-style="normal" text-anchor="middle" fill="#000" stroke="#000" stroke-width="0.315">CSF3R</text>
<text transform="translate(448.90,254.70) scale(0.97,1.22)" font-size="4.5" font-weight="bold" font-style="normal" text-anchor="middle" fill="#000" stroke="#000" stroke-width="0.315">TNFRSF6B</text>
<text transform="translate(461.10,172.00) scale(0.97,1.22)" font-size="4.5" font-weight="bold" font-style="normal" text-anchor="middle" fill="#000" stroke="#000" stroke-width="0.315">CCL4</text>
<text transform="translate(474.60,262.10) scale(0.97,1.22)" font-size="4.5" font-weight="bold" font-style="normal" text-anchor="middle" fill="#000" stroke="#000" stroke-width="0.315">CXCL13</text>
<text transform="translate(493.20,259.70) scale(0.97,1.22)" font-size="4.5" font-weight="bold" font-style="normal" text-anchor="middle" fill="#000" stroke="#000" stroke-width="0.315">IL20RA</text>
<text transform="translate(506.70,233.50) scale(0.97,1.22)" font-size="4.5" font-weight="bold" font-style="normal" text-anchor="middle" fill="#000" stroke="#000" stroke-width="0.315">IL8</text>
<text transform="translate(522.20,183.00) scale(0.97,1.22)" font-size="4.5" font-weight="bold" font-style="normal" text-anchor="middle" fill="#000" stroke="#000" stroke-width="0.315">CXCL13L2</text>
<text transform="translate(536.00,261.00) scale(0.97,1.22)" font-size="4.5" font-weight="bold" font-style="normal" text-anchor="middle" fill="#000" stroke="#000" stroke-width="0.315">MMP7</text>
<text transform="translate(395.40,226.85) rotate(-90)" font-size="5.25" font-weight="bold" text-anchor="middle" stroke="#000" stroke-width="0.210">Relative mRNA expression of cytokines</text>
<text transform="translate(401.10,225.90) rotate(-90)" font-size="5.35" font-weight="bold" text-anchor="middle" stroke="#000" stroke-width="0.214">and cytokine receptor genes</text>
</g>
</svg>
</body></html>
